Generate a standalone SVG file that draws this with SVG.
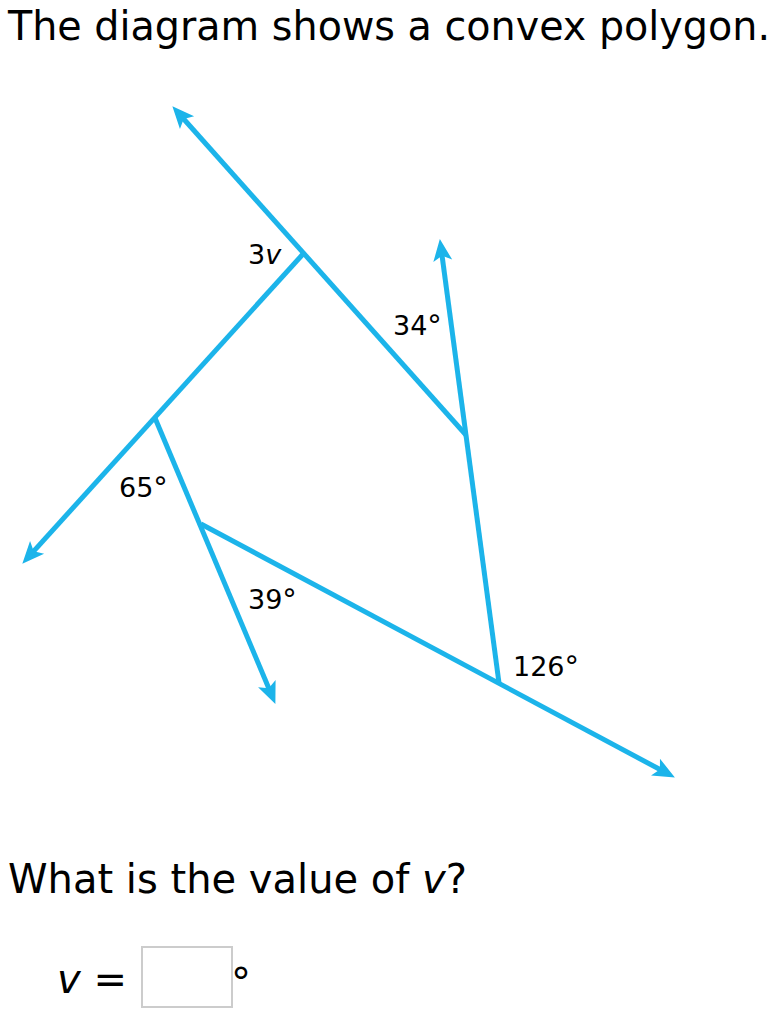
<svg xmlns="http://www.w3.org/2000/svg" width="778" height="1013" viewBox="0 0 778 1013">
<defs>
<style>
.ln{stroke:#1cb4ea;stroke-width:5;fill:none;stroke-linecap:butt}
.lbl{font-family:"DejaVu Sans",Verdana,sans-serif;font-size:27px;fill:#000}
.big{font-family:"DejaVu Sans",Verdana,sans-serif;font-size:40px;fill:#000}
.it{font-style:italic}
.deg{font-size:29px}
</style>
<marker id="ah" viewBox="-15 -12 30 24" markerWidth="30" markerHeight="24" refX="0" refY="0" markerUnits="userSpaceOnUse" orient="auto">
<path d="M11,0 L-11,-9.5 L-6,0 L-11,9.5 Z" fill="#1cb4ea"/>
</marker>
</defs>
<rect width="778" height="1013" fill="#fff"/>
<text class="big" x="8" y="40" font-size="45" textLength="762" lengthAdjust="spacingAndGlyphs">The diagram shows a convex polygon.</text>
<g id="connectors">
<line class="ln" x1="466" y1="435" x2="179.7" y2="114.5" marker-end="url(#ah)"/>
<line class="ln" x1="303" y1="254" x2="29.7" y2="555.6" marker-end="url(#ah)"/>
<line class="ln" x1="155" y1="418" x2="271.1" y2="693.8" marker-end="url(#ah)"/>
<line class="ln" x1="201" y1="524" x2="665.2" y2="772.3" marker-end="url(#ah)"/>
<line class="ln" x1="499" y1="683" x2="441.3" y2="249.9" marker-end="url(#ah)"/>
</g>
<g id="label-3v"><text class="lbl" x="248" y="264">3<tspan class="it">v</tspan></text></g>
<g id="label-34"><text class="lbl" x="393" y="335">34<tspan class="deg">°</tspan></text></g>
<g id="label-65"><text class="lbl" x="119" y="497">65<tspan class="deg">°</tspan></text></g>
<g id="label-39"><text class="lbl" x="248" y="609">39<tspan class="deg">°</tspan></text></g>
<g id="label-126"><text class="lbl" x="513" y="676">126<tspan class="deg">°</tspan></text></g>
<text class="big" x="8" y="893" font-size="39.5">What is the value of <tspan class="it">v</tspan>?</text>
<g id="answer">
<text class="big" x="57" y="993"><tspan class="it">v</tspan> =</text>
<rect x="142" y="947" width="90" height="60" fill="#fff" stroke="#cccccc" stroke-width="2"/>
<text class="big" x="231" y="997" font-size="46">°</text>
</g>
</svg>
